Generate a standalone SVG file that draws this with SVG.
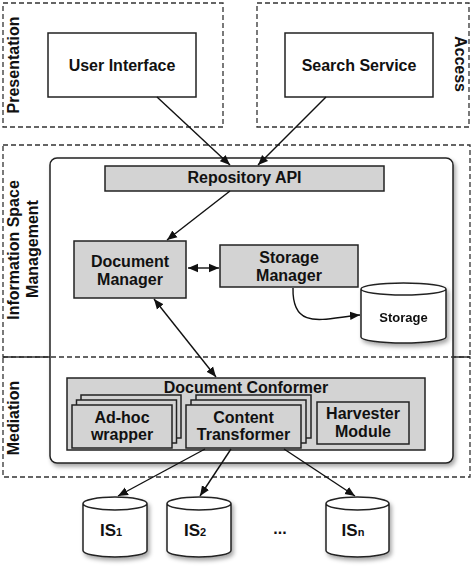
<svg xmlns="http://www.w3.org/2000/svg" width="474" height="575" viewBox="0 0 474 575">
<style>
text{font-family:"Liberation Sans",Arial,sans-serif;font-weight:bold;fill:#111;text-anchor:middle}
.t16{font-size:16px}
.t13{font-size:13px}
.dash{fill:none;stroke:#333;stroke-width:1.3;stroke-dasharray:5,3}
.box{fill:#fff;stroke:#222;stroke-width:1.5}
.g{fill:#d3d3d3;stroke:#222;stroke-width:1.5}
.cyl{fill:#fff;stroke:#222;stroke-width:1.5}
.ln{fill:none;stroke:#111;stroke-width:1.4}
</style>
<defs>
<marker id="ah" viewBox="0 0 10 10" refX="10" refY="5" markerWidth="10" markerHeight="10" markerUnits="userSpaceOnUse" orient="auto-start-reverse">
<path d="M0,0.8 L10,5 L0,9.2 z" fill="#111"/>
</marker>
<filter id="sh" x="-10%" y="-10%" width="130%" height="130%">
<feDropShadow dx="2" dy="3" stdDeviation="2" flood-color="#000" flood-opacity="0.35"/>
</filter>
</defs>

<g id="layers">
<rect class="dash" x="3" y="3" width="220" height="124"/>
<rect class="dash" x="257" y="3" width="212" height="124"/>
<rect class="dash" x="3" y="145" width="467" height="212"/>
<rect class="dash" x="3" y="357" width="467" height="120"/>
<text class="t16" x="19" y="65" transform="rotate(-90 19 65)">Presentation</text>
<text class="t16" x="455" y="64" transform="rotate(90 455 64)">Access</text>
<text class="t16" x="18.5" y="250" transform="rotate(-90 18.5 250)">Information Space</text>
<text class="t16" x="38" y="249" transform="rotate(-90 38 249)">Management</text>
<text class="t16" x="18.5" y="418" transform="rotate(-90 18.5 418)">Mediation</text>
</g>

<g id="ism-container">
<rect x="50" y="158" width="403" height="305" rx="7" ry="7" fill="#fff" stroke="#222" stroke-width="1.5" filter="url(#sh)"/>
<line class="dash" x1="3" y1="357" x2="470" y2="357"/>
</g>

<g id="user-interface">
<rect class="box" x="48" y="33" width="148" height="64"/>
<text class="t16" x="122" y="71">User Interface</text>
</g>
<g id="search-service">
<rect class="box" x="285" y="33" width="148" height="64"/>
<text class="t16" x="359" y="71">Search Service</text>
</g>
<g id="repository-api">
<rect class="g" x="105" y="166" width="279" height="25"/>
<text class="t16" x="244.5" y="183">Repository API</text>
</g>
<g id="document-manager">
<rect class="g" x="74" y="241" width="112" height="57"/>
<text class="t16" x="130" y="267">Document</text>
<text class="t16" x="130" y="285">Manager</text>
</g>
<g id="storage-manager">
<rect class="g" x="220" y="245" width="138" height="42"/>
<text class="t16" x="289" y="263">Storage</text>
<text class="t16" x="289" y="281">Manager</text>
</g>
<g id="storage" filter="url(#sh)">
<path class="cyl" d="M361,289 L361,337 A42.5,6 0 0 0 446,337 L446,289 A42.5,6 0 0 0 361,289 A42.5,6 0 0 0 446,289"/>
<text class="t13" x="403.5" y="322" filter="none">Storage</text>
</g>
<g id="document-conformer">
<rect class="g" x="67" y="378" width="358" height="72"/>
<text class="t16" x="246" y="393">Document Conformer</text>
</g>
<g id="adhoc-wrapper">
<rect class="g" x="81" y="395" width="100" height="43"/>
<rect class="g" x="76.5" y="400" width="100" height="43"/>
<rect class="g" x="72" y="405" width="100" height="43"/>
<text class="t16" x="122" y="423">Ad-hoc</text>
<text class="t16" x="122" y="440">wrapper</text>
</g>
<g id="content-transformer">
<rect class="g" x="196" y="395" width="115" height="43"/>
<rect class="g" x="191" y="400" width="115" height="43"/>
<rect class="g" x="186" y="405" width="115" height="43"/>
<text class="t16" x="243.5" y="423">Content</text>
<text class="t16" x="243.5" y="440">Transformer</text>
</g>
<g id="harvester-module">
<rect class="g" x="317" y="402" width="92" height="42"/>
<text class="t16" x="363" y="419">Harvester</text>
<text class="t16" x="363" y="437">Module</text>
</g>
<g id="is1">
<path class="cyl" filter="url(#sh)" d="M83,503.5 L83,550.5 A32,6.5 0 0 0 147,550.5 L147,503.5 A32,6.5 0 0 0 83,503.5 A32,6.5 0 0 0 147,503.5"/>
<text x="111" y="536" font-size="17">IS<tspan font-size="11">1</tspan></text>
</g>
<g id="is2">
<path class="cyl" filter="url(#sh)" d="M167,503.5 L167,550.5 A32,6.5 0 0 0 231,550.5 L231,503.5 A32,6.5 0 0 0 167,503.5 A32,6.5 0 0 0 231,503.5"/>
<text x="195" y="536" font-size="17">IS<tspan font-size="11">2</tspan></text>
</g>
<g id="ellipsis">
<text class="t16" x="280" y="534">...</text>
</g>
<g id="isn">
<path class="cyl" filter="url(#sh)" d="M326,503.5 L326,550.5 A31.5,6.5 0 0 0 389,550.5 L389,503.5 A31.5,6.5 0 0 0 326,503.5 A31.5,6.5 0 0 0 389,503.5"/>
<text x="353" y="536" font-size="17">IS<tspan font-size="11">n</tspan></text>
</g>

<g id="connectors">
<line class="ln" x1="157" y1="97" x2="230" y2="165" marker-end="url(#ah)"/>
<line class="ln" x1="326" y1="97" x2="258" y2="165" marker-end="url(#ah)"/>
<line class="ln" x1="230" y1="191" x2="167" y2="240" marker-end="url(#ah)"/>
<line class="ln" x1="188" y1="268" x2="219" y2="268" marker-start="url(#ah)" marker-end="url(#ah)"/>
<path class="ln" d="M293,288 C292,332 325,318 360,315" marker-end="url(#ah)"/>
<line class="ln" x1="154" y1="299" x2="216" y2="377" marker-start="url(#ah)" marker-end="url(#ah)"/>
<line class="ln" x1="205" y1="449" x2="118" y2="496" marker-end="url(#ah)"/>
<line class="ln" x1="231" y1="449" x2="200" y2="496" marker-end="url(#ah)"/>
<line class="ln" x1="284" y1="449" x2="355" y2="496" marker-end="url(#ah)"/>
</g>
</svg>
